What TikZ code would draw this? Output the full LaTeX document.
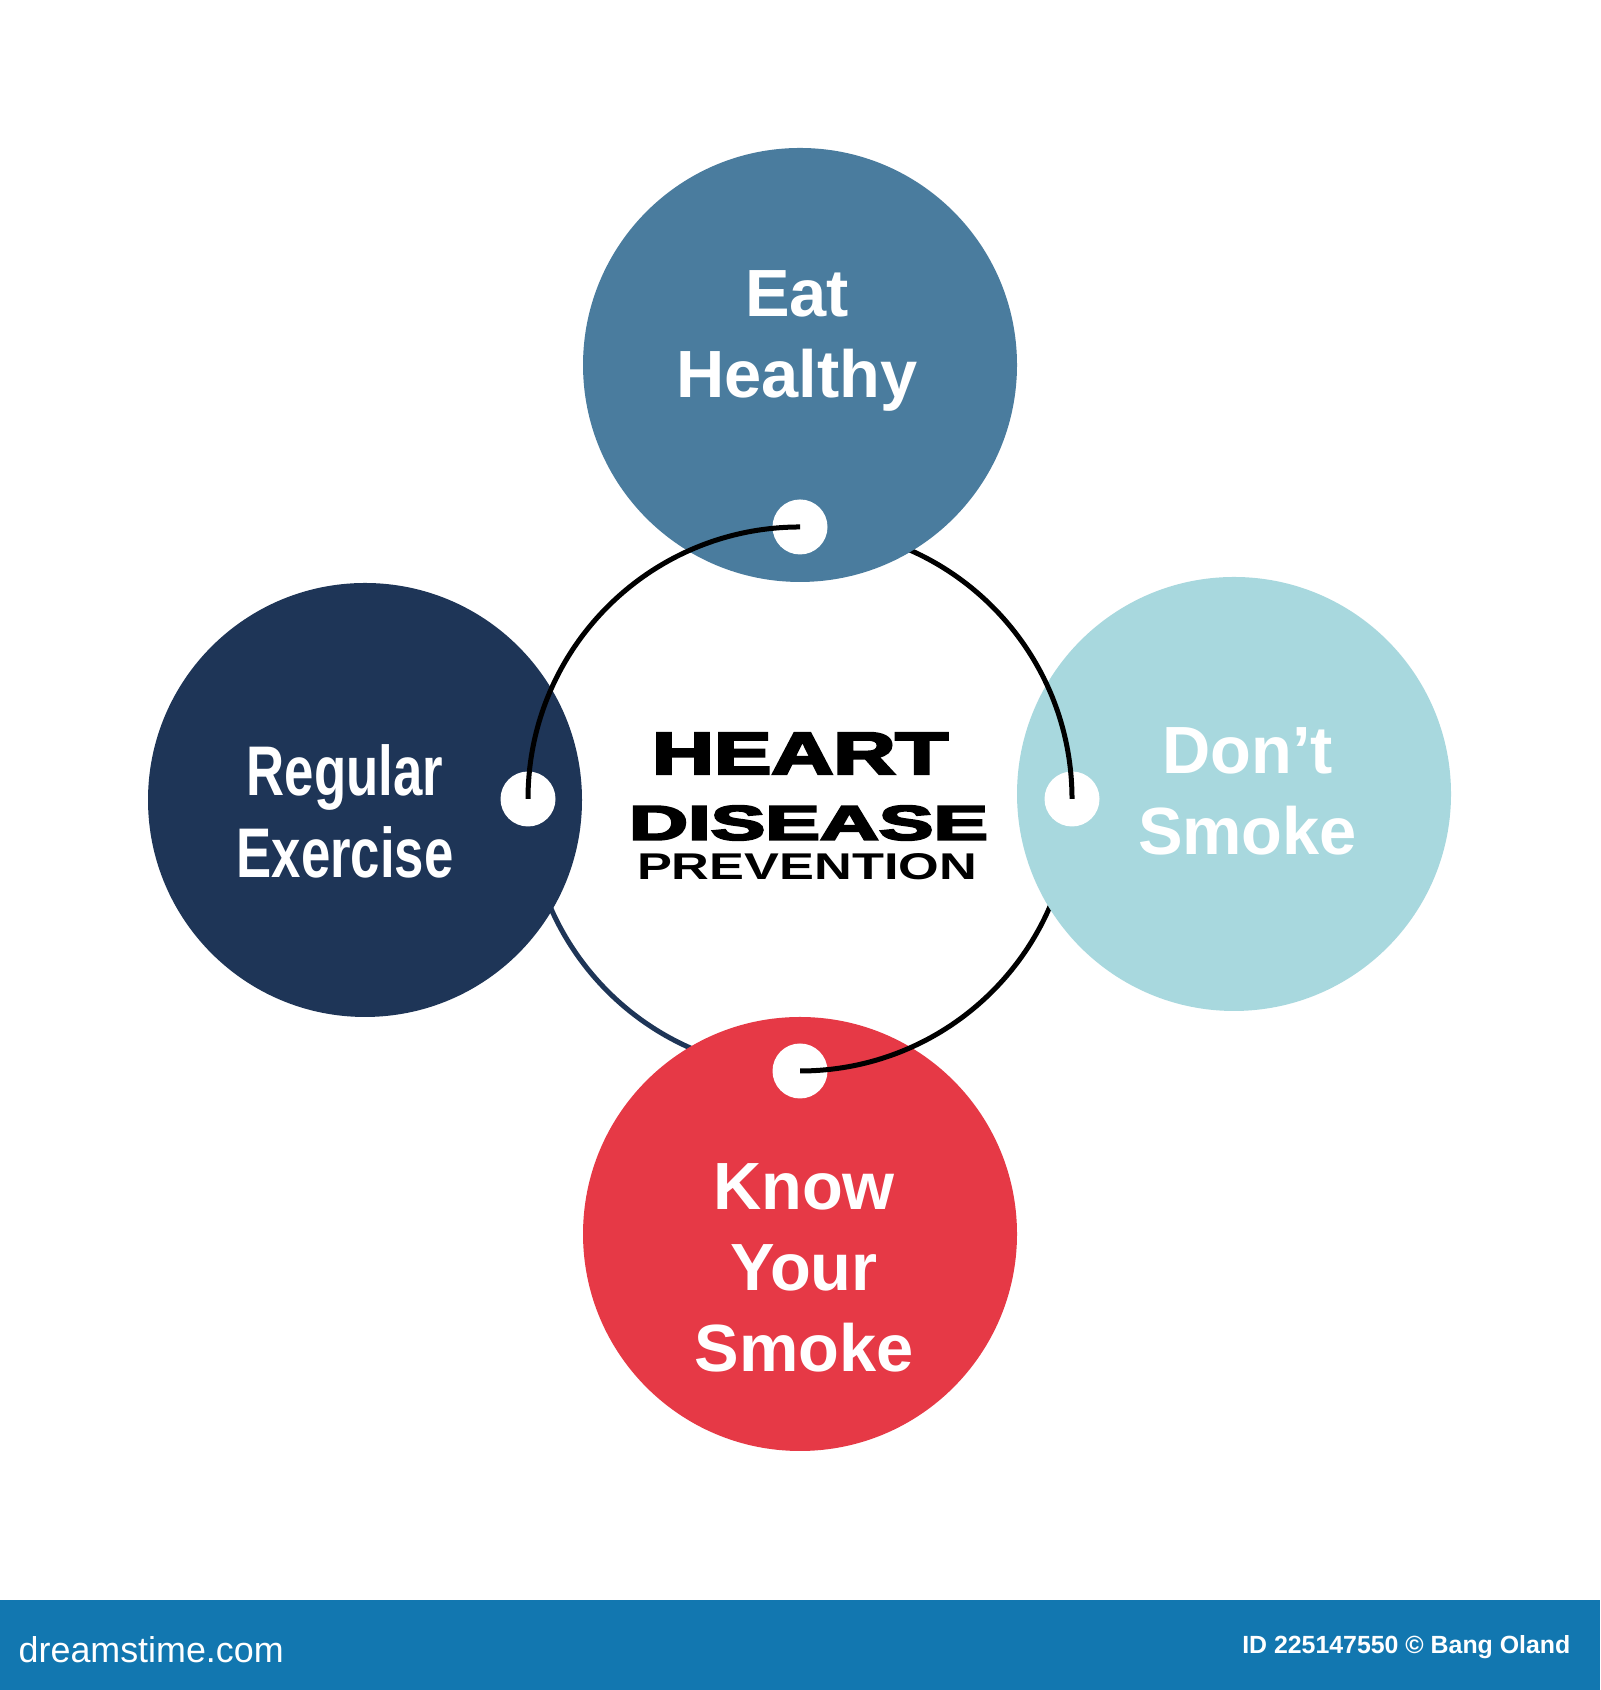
\documentclass[tikz,border=0pt]{standalone}
\usepackage{fontspec}
\setmainfont{Liberation Sans}
\newfontfamily\narrowsans[FakeStretch=0.75]{Liberation Sans Bold}
\newfontfamily\heavysans[FakeBold=4]{Liberation Sans Bold}
\usepackage{graphicx}
\usepackage{tikz}
\usetikzlibrary{calc}
\definecolor{eatblue}{HTML}{4A7C9E}
\definecolor{exercisenavy}{HTML}{1E3557}
\definecolor{smokecyan}{HTML}{A8D8DE}
\definecolor{knowred}{HTML}{E63946}
\definecolor{barblue}{HTML}{1277B0}
\tikzset{
    bubble/.style={
        circle,
        inner sep=0pt,
        minimum size=4.34cm
    },
    hole/.style={
        circle,
        fill=white,
        inner sep=0pt,
        minimum size=0.55cm
    },
    ringline/.style={
        line width=0.05cm
    },
    bubbletext/.style={
        text=white,
        align=center,
        inner sep=0pt,
        font=\fontsize{19}{23}\selectfont\bfseries
    },
    titleline/.style={
        inner sep=0pt,
        font=\heavysans
    },
    footertext/.style={
        text=white,
        inner sep=0pt
    }
}

\begin{document}
\begin{tikzpicture}

    \fill[white] (0,0) rectangle (16,16.9);
    \useasboundingbox (0,0) rectangle (16,16.9);

    %% Ring: centre and the four points on it
    \coordinate (ring) at (8,8.91);
    \coordinate (ptop) at ($(ring)+(90:2.72)$);
    \coordinate (pleft) at ($(ring)+(180:2.72)$);
    \coordinate (pbot) at ($(ring)+(270:2.72)$);
    \coordinate (pright) at ($(ring)+(0:2.72)$);

    %% lower left part, under both bubbles
    \draw[ringline,color=exercisenavy] (pleft) arc[start angle=180,end angle=270,radius=2.72cm];

    %% Regular Exercise
    \node (exercise) [bubble,fill=exercisenavy] at (3.65,8.9) {};
    \node (hexercise) [hole] at (pleft) {};

    %% Know Your Smoke
    \node (know) [bubble,fill=knowred] at (8,4.56) {};
    \node (hknow) [hole] at (pbot) {};
    \draw[ringline] (hknow.center) arc[start angle=270,end angle=360,radius=2.72cm];

    %% Don't Smoke
    \node (smoke) [bubble,fill=smokecyan] at (12.34,8.96) {};
    \node (hsmoke) [hole] at (pright) {};
    \draw[ringline] (hsmoke.center) arc[start angle=0,end angle=90,radius=2.72cm];

    %% Eat Healthy
    \node (eat) [bubble,fill=eatblue] at (8,13.25) {};
    \node (heat) [hole] at (ptop) {};
    \draw[ringline] (heat.center) arc[start angle=90,end angle=180,radius=2.72cm];

    %% Labels
    \node (teat) [bubbletext] at ($(eat)+(-0.03,0.24)$) {Eat\\Healthy};
    \node (texercise) [bubbletext,font=\narrowsans\fontsize{20}{23.3}\selectfont] at ($(exercise)+(-0.2,-0.11)$) {Regular\\Exercise};
    \node (tsmoke) [bubbletext] at ($(smoke)+(0.135,0.025)$) {Don’t\\Smoke};
    \node (tknow) [bubbletext] at ($(know)+(0.04,-0.34)$) {Know\\Your\\Smoke};

    %% Title
    \node (heart) [titleline] at (8,9.365) {\resizebox{2.96cm}{0.41cm}{HEART}};
    \node (disease) [titleline] at (8.085,8.67) {\resizebox{3.59cm}{0.34cm}{DISEASE}};
    \node (prevention) [titleline,font=\bfseries] at (8.07,8.23) {\resizebox{3.40cm}{0.26cm}{PREVENTION}};

    %% Footer bar
    \fill[barblue] (0,0) rectangle (16,0.9);
    \node (site) [footertext,anchor=base west] at (0.18,0.27) {\resizebox{2.65cm}{!}{dreamstime.com}};
    \node (credit) [footertext,anchor=base east,font=\bfseries] at (15.71,0.37) {\resizebox{3.28cm}{!}{ID 225147550 © Bang Oland}};

\end{tikzpicture}
\end{document}
